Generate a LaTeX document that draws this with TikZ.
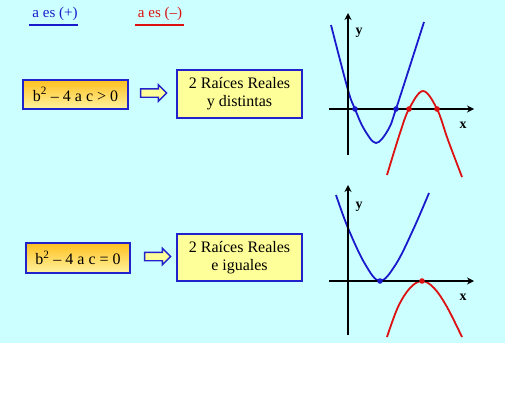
\documentclass[tikz,border=0pt]{standalone}
\usepackage{fontspec}
\setmainfont{Liberation Serif}
\usetikzlibrary{shapes.arrows,arrows.meta}
\definecolor{bgcyan}{HTML}{CCFFFF}
\definecolor{boxblue}{HTML}{2222CC}
\definecolor{lightyel}{HTML}{FFFF99}
\definecolor{orangetop}{HTML}{FFC020}
\definecolor{yelbot}{HTML}{FFF3A0}
\definecolor{curveblue}{HTML}{1A1ACC}
\definecolor{curvered}{HTML}{DD1111}
\tikzset{
  condbox/.style={draw=boxblue, line width=1.5pt, top color=orangetop, bottom color=yelbot,
    inner sep=0pt, font=\fontsize{16}{19}\selectfont},
  resbox/.style={draw=boxblue, line width=1.5pt, fill=lightyel, inner sep=0pt, align=center,
    font=\fontsize{16}{18}\selectfont},
  hollowarrow/.style={shape=single arrow, draw=boxblue, line width=1.4pt, fill=lightyel,
    minimum height=26pt, single arrow head extend=4pt,
    inner sep=0pt, outer sep=0pt},
  axis/.style={line width=2pt, -{Stealth[length=7pt,width=7pt]}},
  bluecurve/.style={curveblue, line width=1.8pt},
  redcurve/.style={curvered, line width=1.8pt},
  axlabel/.style={font=\bfseries\fontsize{14}{14}\selectfont},
  legend/.style={font=\fontsize{15}{15}\selectfont},
}
\begin{document}
\begin{tikzpicture}[x=1pt,y=-1pt]
\useasboundingbox (0,0) rectangle (505,412);
\fill[bgcyan] (0,0) rectangle (505,343);
% legend
\node[legend, text=curveblue] (lp) at (55,14) {a es (+)};
\node[legend, text=curvered] (lm) at (160,14) {a es (–)};
\draw[curveblue, line width=2.5pt] (29,25) -- (78,25);
\draw[curvered, line width=2.5pt] (135,25) -- (184,25);
% row 1
\node[condbox, minimum width=105pt, minimum height=29pt] (c1) at (75.5,94.5) {b\textsuperscript{2} – 4 a c > 0};
\node[hollowarrow] (a1) at (151.5,93) {\rule{0pt}{7pt}};
\node[resbox, minimum width=125pt, minimum height=48pt] (r1) at (239.5,94) {2 Raíces Reales\\y distintas};
% row 2
\node[condbox, minimum width=104pt, minimum height=30pt] (c2) at (78,258) {b\textsuperscript{2} – 4 a c = 0};
\node[hollowarrow] (a2) at (155.5,256.5) {\rule{0pt}{7pt}};
\node[resbox, minimum width=125pt, minimum height=47pt] (r2) at (239.5,257.5) {2 Raíces Reales\\e iguales};
% graph 1
\draw[bluecurve] plot[smooth, tension=0.6] coordinates {(331,25) (348,90) (355,109) (364,129) (376,143) (388,130) (396,109) (424,22)};
\draw[redcurve] plot[smooth, tension=0.6] coordinates {(387,175) (400,133) (409,109) (423,91) (437,109) (448,140) (462,177)};
\draw[axis] (348,155) -- (348,13);
\draw[axis] (329,109) -- (474,109);
\node[axlabel] (y1) at (359,33) {y};
\node[axlabel] (x1) at (463,125) {x};
\fill[curveblue] (355,109) circle (2.8pt) (396,109) circle (2.8pt);
\fill[curvered] (409,109) circle (2.8pt) (437,109) circle (2.8pt);
% graph 2
\draw[bluecurve] plot[smooth, tension=0.6] coordinates {(336,195) (348,228) (365,264) (380,281) (396,264) (413,230) (429,193)};
\draw[redcurve] plot[smooth, tension=0.6] coordinates {(387,337) (398,307) (410,288) (422,281) (434,288) (447,307) (462,337)};
\draw[axis] (348,335) -- (348,185);
\draw[axis] (329,281) -- (474,281);
\node[axlabel] (y2) at (359,207) {y};
\node[axlabel] (x2) at (463,297) {x};
\fill[curveblue] (380,281) circle (2.8pt);
\fill[curvered] (422,281) circle (2.8pt);
\end{tikzpicture}
\end{document}
